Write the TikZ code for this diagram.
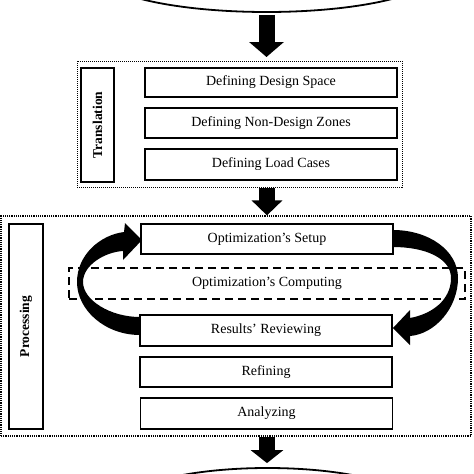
\documentclass[tikz,border=0pt]{standalone}
\usepackage{fontspec}
\setmainfont{Liberation Serif}
\usetikzlibrary{arrows.meta,shapes.geometric}
\begin{document}
\begin{tikzpicture}[x=1pt,y=-1pt,
  boxst/.style={draw,line width=1.8pt,minimum width=252pt,inner sep=0pt,font=\fontsize{14}{16}\selectfont},
  labst/.style={draw,line width=1.8pt,inner sep=0pt,rotate=90,font=\bfseries\fontsize{13.5}{16}\selectfont},
  dotbox/.style={draw,densely dotted,line width=1pt,inner sep=0pt},
  dashbox/.style={draw,dash pattern=on 8pt off 5pt,line width=1.6pt,inner sep=0pt,font=\fontsize{14}{16}\selectfont},
  ellst/.style={draw,ellipse,line width=1.8pt,inner sep=0pt},
  blockarrow/.style={line width=16pt},
  loopfill/.style={fill=black,draw=none},
  ]
\useasboundingbox (0,0) rectangle (474,474);
% top and bottom ellipses
\node[ellst,minimum width=340pt,minimum height=80pt] (topell) at (266.5,-28) {};
\node[ellst,minimum width=300pt,minimum height=80pt] (botell) at (267.5,508) {};
% translation group
\node[dotbox,minimum width=325pt,minimum height=126pt] (translbox) at (239.5,124) {};
\node[labst,minimum width=114pt,minimum height=33pt] (transllab) at (97.5,125) {Translation};
\node[boxst,minimum height=29pt] (space) at (271,82.5) {Defining Design Space};
\node[boxst,minimum height=30pt] (zones) at (271,123) {Defining Non-Design Zones};
\node[boxst,minimum height=31pt] (loads) at (271,164.5) {Defining Load Cases};
% processing group
\node[dotbox,line width=1.2pt,minimum width=470pt,minimum height=220pt] (procbox) at (236,326) {};
\node[labst,minimum width=205pt,minimum height=34pt] (proclab) at (26,326.5) {Processing};
\node[boxst,minimum height=30pt] (setup) at (267,239) {Optimization’s Setup};
\node[dashbox,minimum width=396pt,minimum height=31pt] (computing) at (267,283.5) {Optimization’s Computing};
\node[boxst,minimum height=31pt] (results) at (266,330.5) {Results’ Reviewing};
\node[boxst,minimum height=30pt] (refining) at (266,372) {Refining};
\node[boxst,minimum height=31pt] (analyzing) at (266.5,413.5) {Analyzing};
% block arrows
\draw[blockarrow,-{Triangle[length=15pt,width=34pt]},shorten <=2pt,shorten >=3.5pt]
  (topell.south) -- (topell.south |- translbox.north);
\draw[blockarrow,-{Triangle[length=15pt,width=30pt]}]
  (setup.north |- translbox.south) -- (setup.north |- procbox.north);
\draw[blockarrow,-{Triangle[length=13pt,width=32pt]},shorten >=4pt]
  (setup.north |- procbox.south) -- (setup.north |- botell.north);
% loop arrows (filled crescent block arrows)
\fill[loopfill] (140,335) .. controls (105,335) and (77,310) .. (77,282)
  .. controls (77,255) and (100,235) .. (124,232) -- (125,223) -- (142,240) -- (123,260) -- (123,251)
  .. controls (105,252) and (83,265) .. (83,282)
  .. controls (83,300) and (110,317) .. (140,317) -- cycle;
\fill[loopfill] (393,230) .. controls (428,230) and (458,250) .. (458,278)
  .. controls (458,308) and (435,334) .. (410,336) -- (410,345) -- (393,328) -- (410,310) -- (410,318)
  .. controls (432,314) and (451,300) .. (451,278)
  .. controls (451,258) and (425,247) .. (393,247) -- cycle;
\end{tikzpicture}
\end{document}
